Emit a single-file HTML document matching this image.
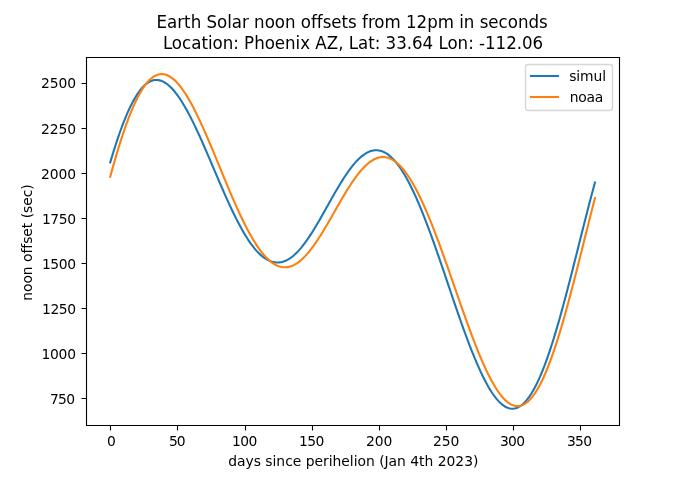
<!DOCTYPE html>
<html lang="en">
<head>
<meta charset="utf-8">
<title>Earth Solar noon offsets</title>
<style>
html,body{margin:0;padding:0;background:#fff;}
body{width:688px;height:478px;overflow:hidden;}
svg{display:block;}
</style>
</head>
<body>
<svg width="688" height="478" viewBox="0 0 688 478" font-family="&quot;DejaVu Sans&quot;, &quot;Liberation Sans&quot;, sans-serif" fill="#000">
<rect width="688" height="478" fill="#fff"/>
<g fill="none" stroke-width="2.083" stroke-linecap="square" stroke-linejoin="round">
<path d="M110.24 162.39 L111.58 157.88 L112.92 153.47 L114.26 149.16 L115.61 144.96 L116.95 140.87 L118.29 136.88 L119.64 133.02 L120.98 129.27 L122.32 125.65 L123.66 122.15 L125.01 118.78 L126.35 115.54 L127.69 112.43 L129.03 109.46 L130.38 106.63 L131.72 103.93 L133.06 101.38 L134.41 98.96 L135.75 96.69 L137.09 94.57 L138.43 92.58 L139.78 90.75 L141.12 89.05 L142.46 87.51 L143.80 86.11 L145.15 84.85 L146.49 83.74 L147.83 82.78 L149.18 81.95 L150.52 81.27 L151.86 80.74 L153.20 80.34 L154.55 80.08 L155.89 79.96 L157.23 79.97 L158.57 80.13 L159.92 80.41 L161.26 80.82 L162.60 81.36 L163.95 82.03 L165.29 82.82 L166.63 83.74 L167.97 84.77 L169.32 85.92 L170.66 87.18 L172.00 88.56 L173.34 90.04 L174.69 91.63 L176.03 93.31 L177.37 95.10 L178.72 96.99 L180.06 98.96 L181.40 101.03 L182.74 103.18 L184.09 105.42 L185.43 107.73 L186.77 110.13 L188.11 112.59 L189.46 115.12 L190.80 117.72 L192.14 120.38 L193.49 123.10 L194.83 125.87 L196.17 128.70 L197.51 131.57 L198.86 134.48 L200.20 137.44 L201.54 140.43 L202.89 143.46 L204.23 146.51 L205.57 149.59 L206.91 152.69 L208.26 155.81 L209.60 158.94 L210.94 162.09 L212.28 165.24 L213.63 168.39 L214.97 171.55 L216.31 174.70 L217.66 177.84 L219.00 180.97 L220.34 184.09 L221.68 187.19 L223.03 190.27 L224.37 193.33 L225.71 196.35 L227.05 199.35 L228.40 202.31 L229.74 205.23 L231.08 208.11 L232.43 210.94 L233.77 213.73 L235.11 216.46 L236.45 219.15 L237.80 221.77 L239.14 224.33 L240.48 226.83 L241.82 229.26 L243.17 231.63 L244.51 233.92 L245.85 236.13 L247.20 238.27 L248.54 240.32 L249.88 242.30 L251.22 244.19 L252.57 245.99 L253.91 247.70 L255.25 249.32 L256.59 250.85 L257.94 252.29 L259.28 253.63 L260.62 254.88 L261.97 256.03 L263.31 257.09 L264.65 258.06 L265.99 258.93 L267.34 259.70 L268.68 260.38 L270.02 260.96 L271.36 261.45 L272.71 261.84 L274.05 262.14 L275.39 262.34 L276.74 262.45 L278.08 262.46 L279.42 262.38 L280.76 262.20 L282.11 261.92 L283.45 261.54 L284.79 261.07 L286.13 260.50 L287.48 259.83 L288.82 259.07 L290.16 258.21 L291.51 257.26 L292.85 256.21 L294.19 255.07 L295.53 253.84 L296.88 252.52 L298.22 251.12 L299.56 249.64 L300.90 248.08 L302.25 246.43 L303.59 244.72 L304.93 242.94 L306.28 241.08 L307.62 239.17 L308.96 237.19 L310.30 235.16 L311.65 233.08 L312.99 230.95 L314.33 228.77 L315.67 226.56 L317.02 224.30 L318.36 222.02 L319.70 219.70 L321.05 217.36 L322.39 215.00 L323.73 212.63 L325.07 210.24 L326.42 207.85 L327.76 205.45 L329.10 203.06 L330.44 200.67 L331.79 198.29 L333.13 195.92 L334.47 193.58 L335.82 191.25 L337.16 188.95 L338.50 186.69 L339.84 184.46 L341.19 182.26 L342.53 180.11 L343.87 178.01 L345.21 175.96 L346.56 173.97 L347.90 172.03 L349.24 170.15 L350.59 168.34 L351.93 166.60 L353.27 164.94 L354.61 163.34 L355.96 161.83 L357.30 160.40 L358.64 159.05 L359.99 157.79 L361.33 156.61 L362.67 155.54 L364.01 154.55 L365.36 153.66 L366.70 152.87 L368.04 152.18 L369.38 151.59 L370.73 151.10 L372.07 150.72 L373.41 150.45 L374.76 150.28 L376.10 150.22 L377.44 150.28 L378.78 150.44 L380.13 150.71 L381.47 151.09 L382.81 151.58 L384.15 152.19 L385.50 152.90 L386.84 153.73 L388.18 154.66 L389.53 155.71 L390.87 156.87 L392.21 158.14 L393.55 159.51 L394.90 160.99 L396.24 162.58 L397.58 164.27 L398.92 166.07 L400.27 167.97 L401.61 169.97 L402.95 172.08 L404.30 174.28 L405.64 176.57 L406.98 178.96 L408.32 181.44 L409.67 184.01 L411.01 186.67 L412.35 189.42 L413.69 192.25 L415.04 195.15 L416.38 198.14 L417.72 201.21 L419.07 204.34 L420.41 207.55 L421.75 210.83 L423.09 214.17 L424.44 217.57 L425.78 221.03 L427.12 224.55 L428.46 228.12 L429.81 231.74 L431.15 235.40 L432.49 239.11 L433.84 242.86 L435.18 246.65 L436.52 250.47 L437.86 254.32 L439.21 258.20 L440.55 262.10 L441.89 266.02 L443.23 269.96 L444.58 273.91 L445.92 277.87 L447.26 281.83 L448.61 285.80 L449.95 289.76 L451.29 293.72 L452.63 297.68 L453.98 301.61 L455.32 305.54 L456.66 309.44 L458.00 313.32 L459.35 317.17 L460.69 320.99 L462.03 324.78 L463.38 328.53 L464.72 332.24 L466.06 335.90 L467.40 339.51 L468.75 343.07 L470.09 346.57 L471.43 350.01 L472.77 353.39 L474.12 356.70 L475.46 359.94 L476.80 363.10 L478.15 366.19 L479.49 369.19 L480.83 372.11 L482.17 374.94 L483.52 377.68 L484.86 380.33 L486.20 382.87 L487.54 385.32 L488.89 387.66 L490.23 389.89 L491.57 392.01 L492.92 394.02 L494.26 395.91 L495.60 397.68 L496.94 399.33 L498.29 400.85 L499.63 402.25 L500.97 403.51 L502.31 404.64 L503.66 405.64 L505.00 406.50 L506.34 407.23 L507.69 407.81 L509.03 408.25 L510.37 408.54 L511.71 408.69 L513.06 408.69 L514.40 408.54 L515.74 408.24 L517.09 407.79 L518.43 407.19 L519.77 406.44 L521.11 405.53 L522.46 404.47 L523.80 403.26 L525.14 401.89 L526.48 400.37 L527.83 398.70 L529.17 396.88 L530.51 394.90 L531.86 392.77 L533.20 390.49 L534.54 388.06 L535.88 385.49 L537.23 382.77 L538.57 379.91 L539.91 376.90 L541.25 373.76 L542.60 370.48 L543.94 367.07 L545.28 363.53 L546.63 359.86 L547.97 356.06 L549.31 352.14 L550.65 348.11 L552.00 343.97 L553.34 339.71 L554.68 335.35 L556.02 330.89 L557.37 326.34 L558.71 321.69 L560.05 316.96 L561.40 312.15 L562.74 307.27 L564.08 302.31 L565.42 297.29 L566.77 292.21 L568.11 287.07 L569.45 281.89 L570.79 276.67 L572.14 271.41 L573.48 266.13 L574.82 260.82 L576.17 255.49 L577.51 250.15 L578.85 244.81 L580.19 239.46 L581.54 234.13 L582.88 228.81 L584.22 223.50 L585.56 218.23 L586.91 212.98 L588.25 207.78 L589.59 202.61 L590.94 197.50 L592.28 192.44 L593.62 187.44 L594.96 182.50" stroke="#1f77b4"/>
<path d="M110.24 176.69 L111.58 171.81 L112.92 167.01 L114.26 162.29 L115.61 157.66 L116.95 153.12 L118.29 148.67 L119.64 144.32 L120.98 140.07 L122.32 135.94 L123.66 131.91 L125.01 128.00 L126.35 124.21 L127.69 120.54 L129.03 116.99 L130.38 113.57 L131.72 110.29 L133.06 107.13 L134.41 104.11 L135.75 101.23 L137.09 98.49 L138.43 95.89 L139.78 93.44 L141.12 91.13 L142.46 88.96 L143.80 86.94 L145.15 85.07 L146.49 83.34 L147.83 81.77 L149.18 80.34 L150.52 79.06 L151.86 77.93 L153.20 76.94 L154.55 76.11 L155.89 75.41 L157.23 74.87 L158.57 74.47 L159.92 74.21 L161.26 74.09 L162.60 74.11 L163.95 74.27 L165.29 74.57 L166.63 75.00 L167.97 75.57 L169.32 76.26 L170.66 77.08 L172.00 78.03 L173.34 79.10 L174.69 80.29 L176.03 81.59 L177.37 83.02 L178.72 84.55 L180.06 86.19 L181.40 87.93 L182.74 89.78 L184.09 91.73 L185.43 93.77 L186.77 95.90 L188.11 98.13 L189.46 100.43 L190.80 102.82 L192.14 105.29 L193.49 107.83 L194.83 110.45 L196.17 113.13 L197.51 115.87 L198.86 118.68 L200.20 121.54 L201.54 124.45 L202.89 127.41 L204.23 130.42 L205.57 133.47 L206.91 136.55 L208.26 139.68 L209.60 142.83 L210.94 146.00 L212.28 149.21 L213.63 152.43 L214.97 155.66 L216.31 158.91 L217.66 162.17 L219.00 165.43 L220.34 168.69 L221.68 171.95 L223.03 175.21 L224.37 178.45 L225.71 181.69 L227.05 184.90 L228.40 188.10 L229.74 191.28 L231.08 194.42 L232.43 197.54 L233.77 200.63 L235.11 203.68 L236.45 206.69 L237.80 209.66 L239.14 212.58 L240.48 215.45 L241.82 218.27 L243.17 221.04 L244.51 223.75 L245.85 226.40 L247.20 228.99 L248.54 231.51 L249.88 233.97 L251.22 236.35 L252.57 238.66 L253.91 240.90 L255.25 243.05 L256.59 245.13 L257.94 247.13 L259.28 249.04 L260.62 250.86 L261.97 252.60 L263.31 254.24 L264.65 255.79 L265.99 257.26 L267.34 258.62 L268.68 259.89 L270.02 261.06 L271.36 262.14 L272.71 263.11 L274.05 263.99 L275.39 264.76 L276.74 265.43 L278.08 266.00 L279.42 266.47 L280.76 266.83 L282.11 267.09 L283.45 267.25 L284.79 267.30 L286.13 267.26 L287.48 267.11 L288.82 266.86 L290.16 266.51 L291.51 266.06 L292.85 265.51 L294.19 264.86 L295.53 264.12 L296.88 263.28 L298.22 262.35 L299.56 261.33 L300.90 260.22 L302.25 259.02 L303.59 257.74 L304.93 256.38 L306.28 254.93 L307.62 253.41 L308.96 251.81 L310.30 250.14 L311.65 248.41 L312.99 246.60 L314.33 244.74 L315.67 242.82 L317.02 240.84 L318.36 238.80 L319.70 236.72 L321.05 234.60 L322.39 232.43 L323.73 230.23 L325.07 227.99 L326.42 225.73 L327.76 223.43 L329.10 221.12 L330.44 218.79 L331.79 216.45 L333.13 214.10 L334.47 211.75 L335.82 209.39 L337.16 207.05 L338.50 204.70 L339.84 202.38 L341.19 200.06 L342.53 197.77 L343.87 195.51 L345.21 193.27 L346.56 191.07 L347.90 188.91 L349.24 186.79 L350.59 184.71 L351.93 182.68 L353.27 180.71 L354.61 178.79 L355.96 176.94 L357.30 175.14 L358.64 173.42 L359.99 171.76 L361.33 170.18 L362.67 168.68 L364.01 167.25 L365.36 165.91 L366.70 164.66 L368.04 163.49 L369.38 162.41 L370.73 161.43 L372.07 160.54 L373.41 159.74 L374.76 159.05 L376.10 158.45 L377.44 157.96 L378.78 157.57 L380.13 157.29 L381.47 157.11 L382.81 157.04 L384.15 157.07 L385.50 157.22 L386.84 157.47 L388.18 157.83 L389.53 158.31 L390.87 158.89 L392.21 159.58 L393.55 160.38 L394.90 161.29 L396.24 162.31 L397.58 163.43 L398.92 164.67 L400.27 166.01 L401.61 167.45 L402.95 169.01 L404.30 170.66 L405.64 172.42 L406.98 174.27 L408.32 176.23 L409.67 178.28 L411.01 180.43 L412.35 182.67 L413.69 185.01 L415.04 187.43 L416.38 189.95 L417.72 192.54 L419.07 195.23 L420.41 197.99 L421.75 200.83 L423.09 203.75 L424.44 206.74 L425.78 209.80 L427.12 212.93 L428.46 216.13 L429.81 219.39 L431.15 222.71 L432.49 226.08 L433.84 229.52 L435.18 233.00 L436.52 236.53 L437.86 240.10 L439.21 243.72 L440.55 247.37 L441.89 251.06 L443.23 254.78 L444.58 258.53 L445.92 262.31 L447.26 266.11 L448.61 269.93 L449.95 273.76 L451.29 277.60 L452.63 281.46 L453.98 285.32 L455.32 289.18 L456.66 293.03 L458.00 296.89 L459.35 300.73 L460.69 304.56 L462.03 308.37 L463.38 312.17 L464.72 315.94 L466.06 319.68 L467.40 323.39 L468.75 327.07 L470.09 330.71 L471.43 334.31 L472.77 337.86 L474.12 341.36 L475.46 344.81 L476.80 348.20 L478.15 351.53 L479.49 354.79 L480.83 357.99 L482.17 361.12 L483.52 364.17 L484.86 367.14 L486.20 370.03 L487.54 372.83 L488.89 375.54 L490.23 378.16 L491.57 380.69 L492.92 383.11 L494.26 385.43 L495.60 387.64 L496.94 389.74 L498.29 391.73 L499.63 393.61 L500.97 395.36 L502.31 396.99 L503.66 398.50 L505.00 399.88 L506.34 401.12 L507.69 402.24 L509.03 403.22 L510.37 404.06 L511.71 404.76 L513.06 405.32 L514.40 405.73 L515.74 406.00 L517.09 406.12 L518.43 406.10 L519.77 405.92 L521.11 405.59 L522.46 405.11 L523.80 404.47 L525.14 403.68 L526.48 402.74 L527.83 401.64 L529.17 400.38 L530.51 398.97 L531.86 397.41 L533.20 395.69 L534.54 393.82 L535.88 391.80 L537.23 389.62 L538.57 387.29 L539.91 384.82 L541.25 382.20 L542.60 379.43 L543.94 376.52 L545.28 373.47 L546.63 370.28 L547.97 366.95 L549.31 363.49 L550.65 359.90 L552.00 356.19 L553.34 352.35 L554.68 348.39 L556.02 344.32 L557.37 340.13 L558.71 335.84 L560.05 331.45 L561.40 326.95 L562.74 322.36 L564.08 317.69 L565.42 312.93 L566.77 308.09 L568.11 303.17 L569.45 298.19 L570.79 293.14 L572.14 288.04 L573.48 282.89 L574.82 277.68 L576.17 272.44 L577.51 267.17 L578.85 261.86 L580.19 256.53 L581.54 251.19 L582.88 245.83 L584.22 240.47 L585.56 235.11 L586.91 229.76 L588.25 224.42 L589.59 219.10 L590.94 213.80 L592.28 208.54 L593.62 203.31 L594.96 198.12" stroke="#ff7f0e"/>
</g>
<g stroke="#000" stroke-width="1.111" fill="none">
<path d="M86.5 57.5H619.5V425.5H86.5Z" stroke-linejoin="miter"/>
<path d="M110.5 425.5v5.00M177.5 425.5v5.00M245.5 425.5v5.00M312.5 425.5v5.00M379.5 425.5v5.00M446.5 425.5v5.00M513.5 425.5v5.00M580.5 425.5v5.00M86.5 398.5h-5.00M86.5 353.5h-5.00M86.5 308.5h-5.00M86.5 263.5h-5.00M86.5 218.5h-5.00M86.5 173.5h-5.00M86.5 128.5h-5.00M86.5 83.5h-5.00"/>
</g>
<g font-size="13.889" text-anchor="middle">
<text x="111.29" y="445.59">0</text>
<text x="176.71" y="445.53" letter-spacing="-1.0000">50</text>
<text x="244.45" y="445.52" letter-spacing="-0.5000">100</text>
<text x="311.46" y="445.57" letter-spacing="-0.5000">150</text>
<text x="379.18" y="445.57">200</text>
<text x="446.13" y="445.55">250</text>
<text x="512.20" y="445.55" letter-spacing="-0.6667">300</text>
<text x="579.18" y="445.54" letter-spacing="-0.6667">350</text>
<text x="353.29" y="465.55" letter-spacing="-0.0139">days since perihelion (Jan 4th 2023)</text>
<text transform="translate(32.46 242.55) rotate(-90)" letter-spacing="-0.0294">noon offset (sec)</text>
</g>
<g font-size="13.889" text-anchor="end">
<text x="74.44" y="403.53" letter-spacing="-0.6667">750</text>
<text x="75.78" y="358.50" letter-spacing="-0.2500">1000</text>
<text x="75.77" y="313.51" letter-spacing="-0.3750">1250</text>
<text x="75.69" y="268.50" letter-spacing="-0.3750">1500</text>
<text x="75.71" y="223.54" letter-spacing="-0.3750">1750</text>
<text x="75.93" y="178.50" letter-spacing="-0.1250">2000</text>
<text x="76.19" y="133.58">2250</text>
<text x="76.19" y="87.53">2500</text>
</g>
<g font-size="16.667" text-anchor="middle">
<text transform="translate(352.12 27.59) scale(1 1.08)" letter-spacing="-0.0111">Earth Solar noon offsets from 12pm in seconds</text>
<text transform="translate(353.05 48.51) scale(1 1.08)" letter-spacing="-0.0111">Location: Phoenix AZ, Lat: 33.64 Lon: -112.06</text>
</g>
<rect x="525.50" y="64.50" width="87.00" height="46.00" rx="2.78" ry="2.78" fill="#fff" stroke="#ccc" stroke-width="1.389" opacity="0.8"/>
<g fill="none" stroke-width="2.083" stroke-linecap="square">
<path d="M531 76H558" stroke="#1f77b4"/>
<path d="M531 97H558" stroke="#ff7f0e"/>
</g>
<g font-size="13.889">
<text x="569.22" y="80.58" letter-spacing="-0.1000">simul</text>
<text x="569.72" y="101.58" letter-spacing="-0.2500">noaa</text>
</g>
</svg>
</body>
</html>
